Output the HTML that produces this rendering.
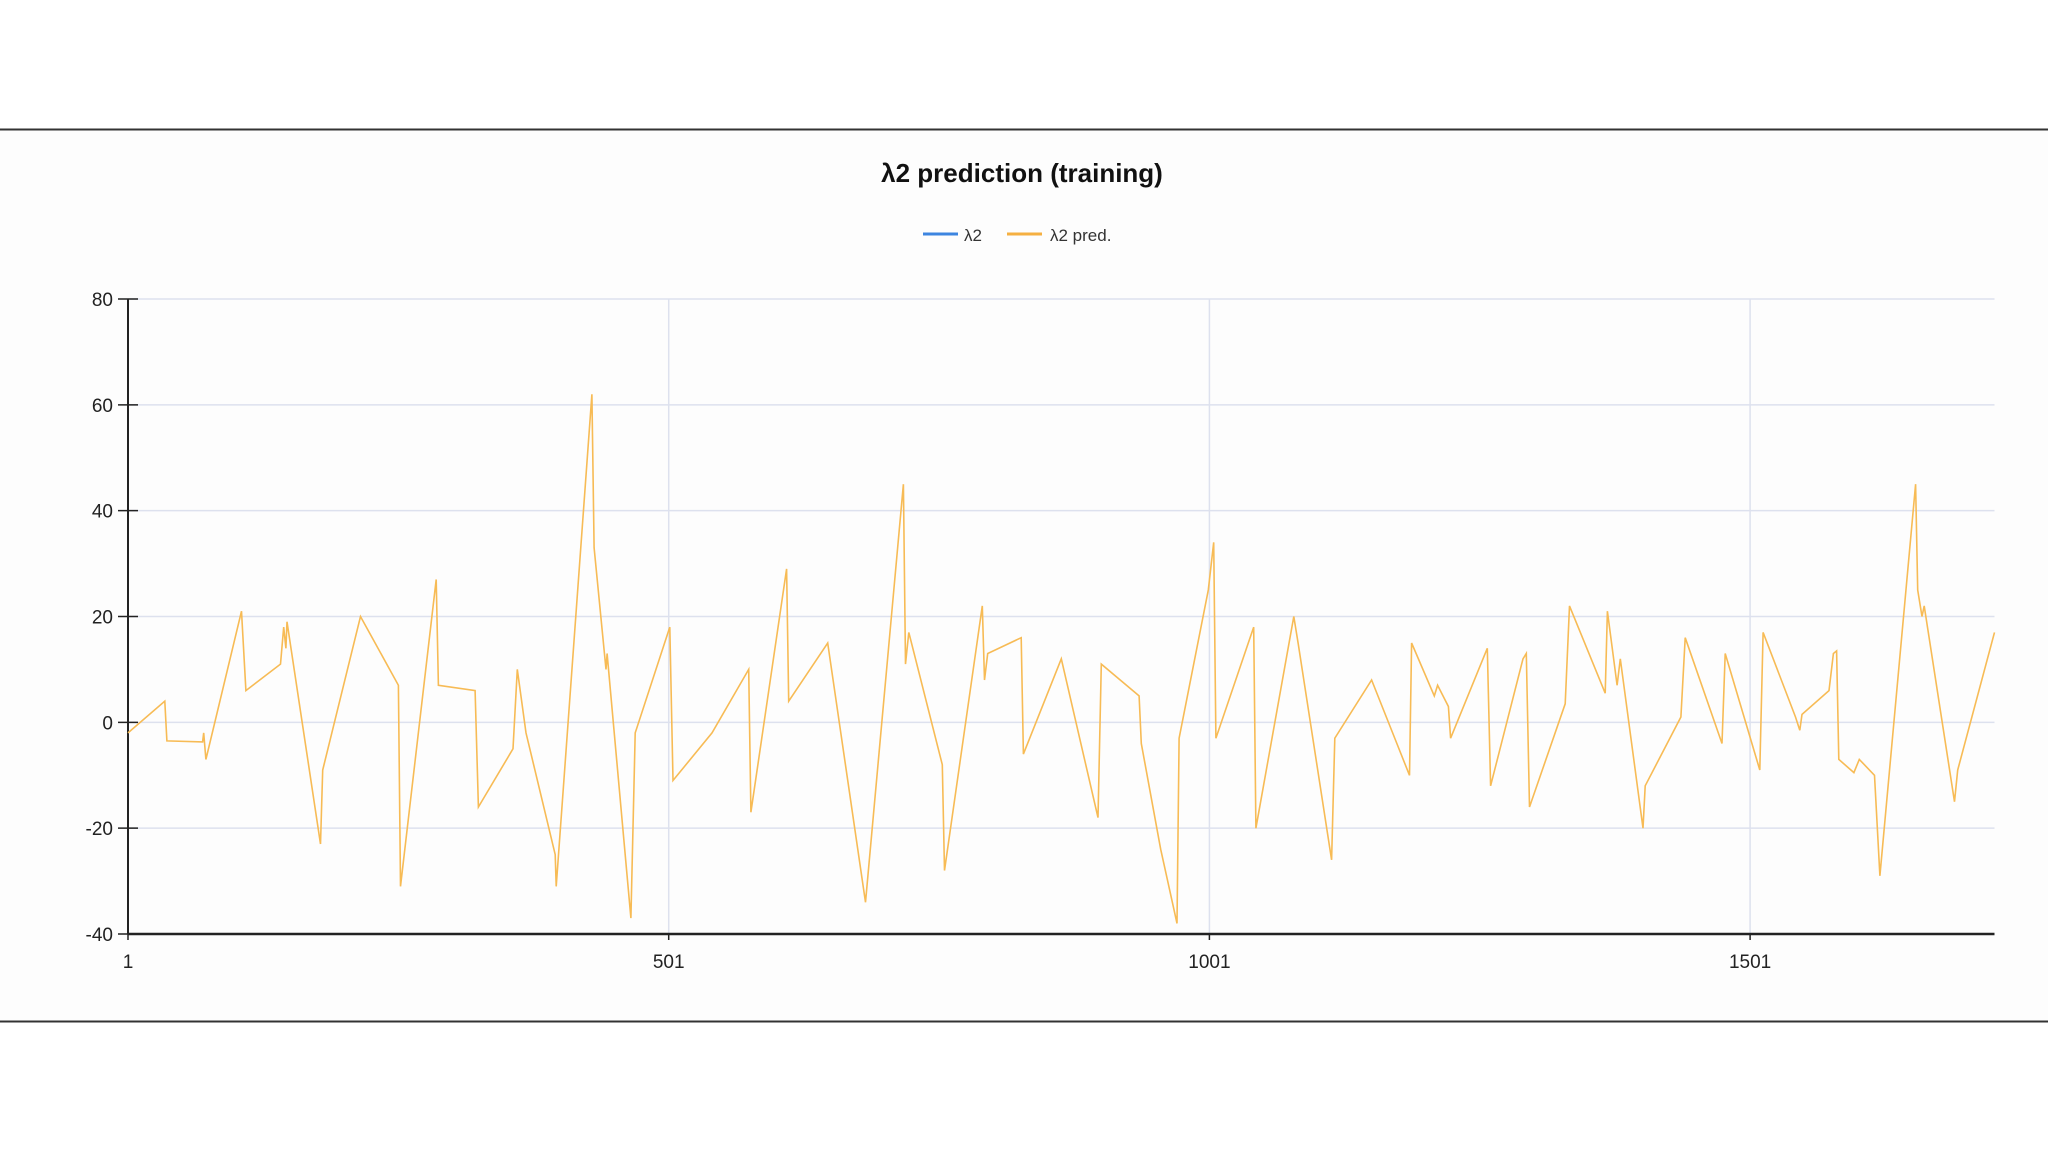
<!DOCTYPE html>
<html><head><meta charset="utf-8"><style>
html,body{margin:0;padding:0;background:#fff;}
svg{display:block;font-family:"Liberation Sans",sans-serif;}
</style></head><body>
<svg id="chart" width="2048" height="1152" viewBox="0 0 2048 1152" xmlns="http://www.w3.org/2000/svg">
<rect x="0" y="0" width="2048" height="1152" fill="#ffffff"/>
<rect x="0" y="130" width="2048" height="890" fill="#fdfdfd"/>
<line x1="0" y1="129.5" x2="2048" y2="129.5" stroke="#333" stroke-width="2"/>
<line x1="0" y1="1021.5" x2="2048" y2="1021.5" stroke="#333" stroke-width="2"/>
<text x="1022" y="182" text-anchor="middle" font-size="26" font-weight="bold" fill="#111">λ2 prediction (training)</text>
<g>
<g>
<line x1="923" y1="234" x2="958" y2="234" stroke="#3d85e0" stroke-width="3"/>
<text x="964" y="241" font-size="17" fill="#333">λ2</text></g>
<g>
<line x1="1007" y1="234" x2="1042" y2="234" stroke="#f5b041" stroke-width="3"/>
<text x="1050" y="241" font-size="17" fill="#333">λ2 pred.</text></g>
</g>
<g id="grid"></g>
<g id="axes"></g>
<g id="series"></g>
</svg>
<script>
const xIndex=[1,35,37,70,71,73,106,110,142,145,147,148,179,181,216,251,253,286,288,322,325,357,361,369,396,397,430,432,443,444,466,470,502,505,541,575,577,610,612,648,683,718,720,723,754,756,791,793,796,827,829,864,898,901,936,938,956,971,973,1000,1005,1007,1042,1044,1079,1083,1114,1117,1151,1186,1188,1209,1212,1222,1224,1258,1261,1291,1294,1297,1330,1334,1367,1369,1378,1381,1402,1404,1437,1441,1475,1478,1510,1513,1543,1547,1549,1574,1578,1581,1583,1597,1602,1616,1621,1654,1656,1660,1662,1690,1693,1727];
const predValues=[-2,4,-3.5,-3.7,-2,-7,21,6,11,18,14,19,-23,-9,20,7,-31,27,7,6,-16,-5,10,-2,-25,-31,62,33,10,13,-37,-2,18,-11,-2,10,-17,29,4,15,-34,45,11,17,-8,-28,22,8,13,16,-6,12,-18,11,5,-4,-24,-38,-3,25,34,-3,18,-20,20,15,-26,-3,8,-10,15,5,7,3,-3,14,-12,12,13,-16,3.5,22,5.5,21,7,12,-20,-12,1,16,-4,13,-9,17,1,-1.5,1.5,6,13,13.5,-7,-9.5,-7,-10,-29,45,25,20,22,-15,-9,17];
const yTicks=[80,60,40,20,0,-20,-40];
const xTicks=[1,501,1001,1501];
const L=128,R=1994.5,T=299,B=934,xMin=1,xMax=1727,yMin=-40,yMax=80;
const xs=i=>L+(i-xMin)/(xMax-xMin)*(R-L);
const ys=v=>B-(v-yMin)/(yMax-yMin)*(B-T);
const NS="http://www.w3.org/2000/svg";
function mk(tag,attrs,parent){const e=document.createElementNS(NS,tag);for(const k in attrs)e.setAttribute(k,attrs[k]);parent.appendChild(e);return e;}
const grid=document.getElementById('grid'),axes=document.getElementById('axes'),series=document.getElementById('series');
yTicks.forEach(v=>{
  const y=ys(v);
  if(v!==yMin){const g=mk('line',{x1:L,x2:R,y1:y,y2:y,stroke:'#dde1ee','stroke-width':1.5},grid);
  
  }
  const t=mk('line',{x1:L-10,x2:L+10,y1:y,y2:y,stroke:'#222','stroke-width':1.5},axes);
  
  
  const lb=mk('text',{x:L-15,y:y+7,'text-anchor':'end','font-size':19,fill:'#222'},axes);
  lb.textContent=v;
  
  
});
xTicks.forEach(v=>{
  const x=xs(v);
  if(v!==xMin){const g=mk('line',{x1:x,x2:x,y1:T,y2:B,stroke:'#dde1ee','stroke-width':1.5},grid);
  
  }
  const t=mk('line',{x1:x,x2:x,y1:B,y2:B+6,stroke:'#222','stroke-width':1.5},axes);
  
  
  const lb=mk('text',{x:x,y:B+34,'text-anchor':'middle','font-size':19,fill:'#222'},axes);
  lb.textContent=v;
  
  
});
const ya=mk('line',{x1:L,x2:L,y1:T,y2:B,stroke:'#222','stroke-width':2},axes);


const xa=mk('line',{x1:L,x2:R,y1:B,y2:B,stroke:'#222','stroke-width':2.5},axes);


const pts=xIndex.map((i,k)=>xs(i).toFixed(1)+','+ys(predValues[k]).toFixed(1)).join(' ');
const pl=mk('polyline',{points:pts,fill:'none',stroke:'#f7bb55','stroke-width':1.6,'stroke-linejoin':'miter'},series);


</script>
</body></html>
